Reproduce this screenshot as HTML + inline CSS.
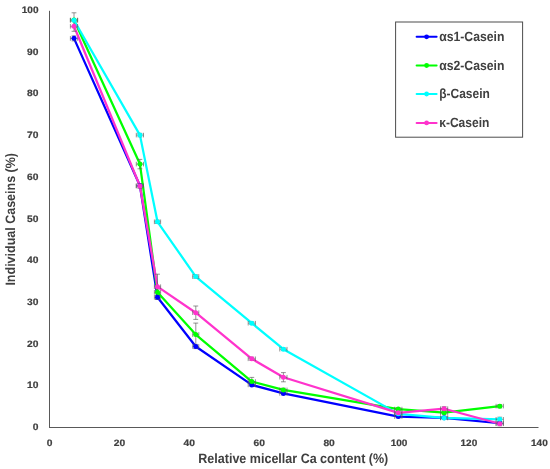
<!DOCTYPE html>
<html lang="en">
<head>
<meta charset="utf-8">
<title>Individual caseins vs relative micellar Ca content</title>
<style>
html,body{margin:0;padding:0;background:#fff;}
body{width:550px;height:469px;overflow:hidden;}
svg{display:block;}
text{font-family:"Liberation Sans", Arial, Helvetica, sans-serif;font-weight:bold;fill:#404040;text-rendering:geometricPrecision;}
.tick{font-size:9.3px;stroke:#404040;stroke-width:0.2px;}
.ttl{font-size:13.6px;}
.leg{font-size:13.4px;}
</style>
</head>
<body>
<svg width="550" height="469" viewBox="0 0 550 469">
<rect x="0" y="0" width="550" height="469" fill="#ffffff"/>
<g stroke="#595959" stroke-width="1" fill="none">
<line x1="49.5" y1="10.8" x2="49.5" y2="427.5"/>
<line x1="49" y1="427.5" x2="538.5" y2="427.5"/>
</g>
<g class="tick" text-anchor="end">
<text x="38.5" y="430.0" textLength="5.7" lengthAdjust="spacingAndGlyphs">0</text>
<text x="38.5" y="388.3" textLength="11.4" lengthAdjust="spacingAndGlyphs">10</text>
<text x="38.5" y="346.6" textLength="11.4" lengthAdjust="spacingAndGlyphs">20</text>
<text x="38.5" y="304.9" textLength="11.4" lengthAdjust="spacingAndGlyphs">30</text>
<text x="38.5" y="263.2" textLength="11.4" lengthAdjust="spacingAndGlyphs">40</text>
<text x="38.5" y="221.5" textLength="11.4" lengthAdjust="spacingAndGlyphs">50</text>
<text x="38.5" y="179.8" textLength="11.4" lengthAdjust="spacingAndGlyphs">60</text>
<text x="38.5" y="138.1" textLength="11.4" lengthAdjust="spacingAndGlyphs">70</text>
<text x="38.5" y="96.4" textLength="11.4" lengthAdjust="spacingAndGlyphs">80</text>
<text x="38.5" y="54.7" textLength="11.4" lengthAdjust="spacingAndGlyphs">90</text>
<text x="38.5" y="13.0" textLength="16.7" lengthAdjust="spacingAndGlyphs">100</text>
</g>
<g class="tick" text-anchor="middle">
<text x="49.5" y="445.5" textLength="5.7" lengthAdjust="spacingAndGlyphs">0</text>
<text x="119.4" y="445.5" textLength="11.4" lengthAdjust="spacingAndGlyphs">20</text>
<text x="189.3" y="445.5" textLength="11.4" lengthAdjust="spacingAndGlyphs">40</text>
<text x="259.2" y="445.5" textLength="11.4" lengthAdjust="spacingAndGlyphs">60</text>
<text x="329.1" y="445.5" textLength="11.4" lengthAdjust="spacingAndGlyphs">80</text>
<text x="399.0" y="445.5" textLength="16.7" lengthAdjust="spacingAndGlyphs">100</text>
<text x="468.9" y="445.5" textLength="16.7" lengthAdjust="spacingAndGlyphs">120</text>
<text x="539.4" y="445.5" textLength="16.7" lengthAdjust="spacingAndGlyphs">140</text>
</g>
<text class="ttl" x="293.3" y="463.4" text-anchor="middle" textLength="190" lengthAdjust="spacingAndGlyphs">Relative micellar Ca content (%)</text>
<text class="ttl" transform="translate(15.0 219.3) rotate(-90)" text-anchor="middle" textLength="132.6" lengthAdjust="spacingAndGlyphs">Individual Caseins (%)</text>
<polyline points="74.0,38.36 139.95,185.77 157.5,297.31 195.75,346.52 251.8,384.88 283.4,393.43 398.3,416.57 444.1,417.83 499.75,423.25" fill="none" stroke="#0000FF" stroke-width="2.25" stroke-linejoin="round" stroke-linecap="round"/>
<path d="M70.4 38.4H77.6 M70.4 36.1V40.7 M77.6 36.1V40.7 M74.0 35.9V40.9 M71.6 35.9H76.4 M71.6 40.9H76.4 M136.3 185.8H143.5 M136.3 183.5V188.1 M143.5 183.5V188.1 M139.9 183.7V187.9 M137.5 183.7H142.3 M137.5 187.9H142.3 M154.4 297.3H160.6 M154.4 295.0V299.6 M160.6 295.0V299.6 M157.5 295.2V299.4 M155.1 295.2H159.9 M155.1 299.4H159.9 M192.7 346.5H198.8 M192.7 344.2V348.8 M198.8 344.2V348.8 M195.8 344.4V348.6 M193.3 344.4H198.2 M193.3 348.6H198.2 M248.2 384.9H255.4 M248.2 382.6V387.2 M255.4 382.6V387.2 M251.8 383.6V386.1 M249.4 383.6H254.2 M249.4 386.1H254.2 M279.8 393.4H287.0 M279.8 391.1V395.7 M287.0 391.1V395.7 M283.4 392.2V394.7 M281.0 392.2H285.8 M281.0 394.7H285.8 M394.7 416.6H401.9 M394.7 414.3V418.9 M401.9 414.3V418.9 M398.3 415.3V417.8 M395.9 415.3H400.7 M395.9 417.8H400.7 M440.5 417.8H447.7 M440.5 415.5V420.1 M447.7 415.5V420.1 M444.1 416.6V419.1 M441.7 416.6H446.5 M441.7 419.1H446.5 M496.1 423.2H503.4 M496.1 420.9V425.6 M503.4 420.9V425.6 M499.8 422.0V424.5 M497.4 422.0H502.1 M497.4 424.5H502.1" fill="none" stroke="#5a5a5a" stroke-width="0.65"/>
<polyline points="74.0,20.01 139.95,164.08 157.5,292.31 195.75,334.55 251.8,381.55 283.4,389.89 398.3,409.07 444.1,412.7 499.75,406.15" fill="none" stroke="#00FF00" stroke-width="2.25" stroke-linejoin="round" stroke-linecap="round"/>
<path d="M70.4 20.0H77.6 M70.4 17.7V22.3 M77.6 17.7V22.3 M74.0 12.8V27.2 M71.6 12.8H76.4 M71.6 27.2H76.4 M136.3 164.1H143.5 M136.3 161.8V166.4 M143.5 161.8V166.4 M139.9 159.4V168.8 M137.5 159.4H142.3 M137.5 168.8H142.3 M154.4 292.3H160.6 M154.4 290.0V294.6 M160.6 290.0V294.6 M157.5 289.0V295.6 M155.1 289.0H159.9 M155.1 295.6H159.9 M192.7 334.6H198.8 M192.7 332.2V336.9 M198.8 332.2V336.9 M195.8 323.1V346.0 M193.3 323.1H198.2 M193.3 346.0H198.2 M248.2 381.6H255.4 M248.2 379.2V383.9 M255.4 379.2V383.9 M251.8 377.4V385.7 M249.4 377.4H254.2 M249.4 385.7H254.2 M279.8 389.9H287.0 M279.8 387.6V392.2 M287.0 387.6V392.2 M283.4 388.2V391.6 M281.0 388.2H285.8 M281.0 391.6H285.8 M394.7 409.1H401.9 M394.7 406.8V411.4 M401.9 406.8V411.4 M398.3 407.8V410.3 M395.9 407.8H400.7 M395.9 410.3H400.7 M440.5 412.7H447.7 M440.5 410.4V415.0 M447.7 410.4V415.0 M444.1 410.6V414.8 M441.7 410.6H446.5 M441.7 414.8H446.5 M496.1 406.1H503.4 M496.1 403.8V408.4 M503.4 403.8V408.4 M499.8 404.5V407.8 M497.4 404.5H502.1 M497.4 407.8H502.1" fill="none" stroke="#5a5a5a" stroke-width="0.65"/>
<polyline points="74.0,20.26 139.95,135.1 157.5,221.84 195.75,276.55 251.8,323.17 283.4,349.19 398.3,413.86 444.1,417.91 499.75,419.29" fill="none" stroke="#00FFFF" stroke-width="2.25" stroke-linejoin="round" stroke-linecap="round"/>
<path d="M70.4 20.3H77.6 M70.4 18.0V22.6 M77.6 18.0V22.6 M74.0 19.0V21.5 M71.6 19.0H76.4 M71.6 21.5H76.4 M136.3 135.1H143.5 M136.3 132.8V137.4 M143.5 132.8V137.4 M139.9 133.4V136.8 M137.5 133.4H142.3 M137.5 136.8H142.3 M154.4 221.8H160.6 M154.4 219.5V224.1 M160.6 219.5V224.1 M157.5 220.2V223.5 M155.1 220.2H159.9 M155.1 223.5H159.9 M192.7 276.6H198.8 M192.7 274.2V278.9 M198.8 274.2V278.9 M195.8 274.9V278.2 M193.3 274.9H198.2 M193.3 278.2H198.2 M248.2 323.2H255.4 M248.2 320.9V325.5 M255.4 320.9V325.5 M251.8 321.9V324.4 M249.4 321.9H254.2 M249.4 324.4H254.2 M279.8 349.2H287.0 M279.8 346.9V351.5 M287.0 346.9V351.5 M283.4 347.9V350.4 M281.0 347.9H285.8 M281.0 350.4H285.8 M394.7 413.9H401.9 M394.7 411.6V416.2 M401.9 411.6V416.2 M398.3 412.6V415.1 M395.9 412.6H400.7 M395.9 415.1H400.7 M440.5 417.9H447.7 M440.5 415.6V420.2 M447.7 415.6V420.2 M444.1 416.7V419.2 M441.7 416.7H446.5 M441.7 419.2H446.5 M496.1 419.3H503.4 M496.1 417.0V421.6 M503.4 417.0V421.6 M499.8 417.2V421.4 M497.4 417.2H502.1 M497.4 421.4H502.1" fill="none" stroke="#5a5a5a" stroke-width="0.65"/>
<polyline points="74.0,26.3 139.95,185.97 157.5,286.68 195.75,312.7 251.8,358.82 283.4,377.21 398.3,412.82 444.1,408.74 499.75,423.75" fill="none" stroke="#FF33CC" stroke-width="2.25" stroke-linejoin="round" stroke-linecap="round"/>
<path d="M70.4 26.3H77.6 M70.4 24.0V28.6 M77.6 24.0V28.6 M74.0 21.3V31.3 M71.6 21.3H76.4 M71.6 31.3H76.4 M136.3 186.0H143.5 M136.3 183.7V188.3 M143.5 183.7V188.3 M139.9 183.9V188.1 M137.5 183.9H142.3 M137.5 188.1H142.3 M154.4 286.7H160.6 M154.4 284.4V289.0 M160.6 284.4V289.0 M157.5 274.2V299.2 M155.1 274.2H159.9 M155.1 299.2H159.9 M192.7 312.7H198.8 M192.7 310.4V315.0 M198.8 310.4V315.0 M195.8 306.0V319.4 M193.3 306.0H198.2 M193.3 319.4H198.2 M248.2 358.8H255.4 M248.2 356.5V361.1 M255.4 356.5V361.1 M251.8 357.2V360.5 M249.4 357.2H254.2 M249.4 360.5H254.2 M279.8 377.2H287.0 M279.8 374.9V379.5 M287.0 374.9V379.5 M283.4 372.6V381.8 M281.0 372.6H285.8 M281.0 381.8H285.8 M394.7 412.8H401.9 M394.7 410.5V415.1 M401.9 410.5V415.1 M398.3 411.2V414.5 M395.9 411.2H400.7 M395.9 414.5H400.7 M440.5 408.7H447.7 M440.5 406.4V411.0 M447.7 406.4V411.0 M444.1 406.7V410.8 M441.7 406.7H446.5 M441.7 410.8H446.5 M496.1 423.8H503.4 M496.1 421.4V426.1 M503.4 421.4V426.1 M499.8 421.7V425.8 M497.4 421.7H502.1 M497.4 425.8H502.1" fill="none" stroke="#5a5a5a" stroke-width="0.65"/>
<g fill="#0000FF">
<circle cx="74.0" cy="38.36" r="2.5"/>
<circle cx="139.95" cy="185.77" r="2.5"/>
<circle cx="157.5" cy="297.31" r="2.5"/>
<circle cx="195.75" cy="346.52" r="2.5"/>
<circle cx="251.8" cy="384.88" r="2.5"/>
<circle cx="283.4" cy="393.43" r="2.5"/>
<circle cx="398.3" cy="416.57" r="2.5"/>
<circle cx="444.1" cy="417.83" r="2.5"/>
<circle cx="499.75" cy="423.25" r="2.5"/>
</g>
<g fill="#00FF00">
<circle cx="74.0" cy="20.01" r="2.5"/>
<circle cx="139.95" cy="164.08" r="2.5"/>
<circle cx="157.5" cy="292.31" r="2.5"/>
<circle cx="195.75" cy="334.55" r="2.5"/>
<circle cx="251.8" cy="381.55" r="2.5"/>
<circle cx="283.4" cy="389.89" r="2.5"/>
<circle cx="398.3" cy="409.07" r="2.5"/>
<circle cx="444.1" cy="412.7" r="2.5"/>
<circle cx="499.75" cy="406.15" r="2.5"/>
</g>
<g fill="#00FFFF">
<circle cx="74.0" cy="20.26" r="2.5"/>
<circle cx="139.95" cy="135.1" r="2.5"/>
<circle cx="157.5" cy="221.84" r="2.5"/>
<circle cx="195.75" cy="276.55" r="2.5"/>
<circle cx="251.8" cy="323.17" r="2.5"/>
<circle cx="283.4" cy="349.19" r="2.5"/>
<circle cx="398.3" cy="413.86" r="2.5"/>
<circle cx="444.1" cy="417.91" r="2.5"/>
<circle cx="499.75" cy="419.29" r="2.5"/>
</g>
<g fill="#FF33CC">
<circle cx="74.0" cy="26.3" r="2.5"/>
<circle cx="139.95" cy="185.97" r="2.5"/>
<circle cx="157.5" cy="286.68" r="2.5"/>
<circle cx="195.75" cy="312.7" r="2.5"/>
<circle cx="251.8" cy="358.82" r="2.5"/>
<circle cx="283.4" cy="377.21" r="2.5"/>
<circle cx="398.3" cy="412.82" r="2.5"/>
<circle cx="444.1" cy="408.74" r="2.5"/>
<circle cx="499.75" cy="423.75" r="2.5"/>
</g>
<rect x="395.6" y="22" width="127" height="115.2" fill="#ffffff" stroke="#4d4d4d" stroke-width="1"/>
<line x1="416.6" y1="36.8" x2="436.6" y2="36.8" stroke="#0000FF" stroke-width="2" stroke-linecap="round"/>
<circle cx="426.6" cy="36.8" r="2.4" fill="#0000FF"/>
<text class="leg" x="439.2" y="40.8" textLength="65.2" lengthAdjust="spacingAndGlyphs">αs1-Casein</text>
<line x1="416.6" y1="65.5" x2="436.6" y2="65.5" stroke="#00FF00" stroke-width="2" stroke-linecap="round"/>
<circle cx="426.6" cy="65.5" r="2.4" fill="#00FF00"/>
<text class="leg" x="439.2" y="69.5" textLength="65.2" lengthAdjust="spacingAndGlyphs">αs2-Casein</text>
<line x1="416.6" y1="94.0" x2="436.6" y2="94.0" stroke="#00FFFF" stroke-width="2" stroke-linecap="round"/>
<circle cx="426.6" cy="94.0" r="2.4" fill="#00FFFF"/>
<text class="leg" x="439.2" y="98.0" textLength="50.6" lengthAdjust="spacingAndGlyphs">β-Casein</text>
<line x1="416.6" y1="122.9" x2="436.6" y2="122.9" stroke="#FF33CC" stroke-width="2" stroke-linecap="round"/>
<circle cx="426.6" cy="122.9" r="2.4" fill="#FF33CC"/>
<text class="leg" x="439.2" y="126.9" textLength="50.2" lengthAdjust="spacingAndGlyphs">κ-Casein</text>
</svg>
</body>
</html>
